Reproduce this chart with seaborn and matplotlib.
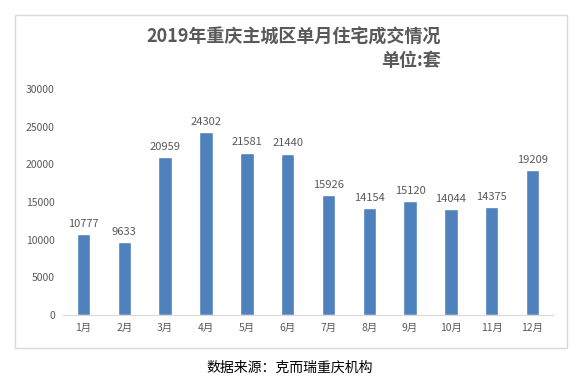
import pandas as pd
import seaborn as sns
import matplotlib.pyplot as plt
from matplotlib.patches import Rectangle

months = ['1月', '2月', '3月', '4月', '5月', '6月', '7月', '8月', '9月', '10月', '11月', '12月']
sales = [10777, 9633, 20959, 24302, 21581, 21440, 15926, 14154, 15120, 14044, 14375, 19209]
yticks = [0, 5000, 10000, 15000, 20000, 25000, 30000]

df = pd.DataFrame({'月份': months, '成交': sales})

sns.set_style('white')
plt.rcParams['font.family'] = ['Noto Sans CJK SC', 'DejaVu Sans']

fig = plt.figure(figsize=(5.79, 3.86), dpi=100)
ax = fig.add_axes([0.109, 0.184, 0.846, 0.585])

sns.barplot(data=df, x='月份', y='成交', color='#4F81BD', width=0.33,
            saturation=1, errorbar=None, ax=ax)

# 数据标签
for i, v in enumerate(sales):
    ax.text(i, v + 700, str(v), ha='center', va='bottom', fontsize=8, color='#595959')

ax.set_ylim(0, 30000)
ax.set_yticks(yticks)
ax.set_yticklabels([str(t) for t in yticks])
ax.set_xlim(-0.5, len(months) - 0.5)
ax.set_xlabel('')
ax.set_ylabel('')
ax.tick_params(axis='both', labelsize=7.5, colors='#595959', length=0, pad=6)
for s in ['top', 'right', 'left']:
    ax.spines[s].set_visible(False)
ax.spines['bottom'].set_color('#D9D9D9')

# 外框
fig.patches.append(Rectangle((15 / 579, 1 - 348 / 386), 552 / 579, 333 / 386,
                             transform=fig.transFigure, fill=False,
                             edgecolor='#D9D9D9', linewidth=1))

fig.text(441 / 579, 1 - 37 / 386, '2019年重庆主城区单月住宅成交情况', ha='right', va='center',
         fontsize=13, fontweight='bold', color='#595959')
fig.text(441 / 579, 1 - 60 / 386, '单位:套', ha='right', va='center',
         fontsize=13, fontweight='bold', color='#595959')
fig.text(290 / 579, 1 - 368 / 386, '数据来源：克而瑞重庆机构', ha='center', va='center',
         fontsize=10, color='black')

fig.savefig('out.png', dpi=100, facecolor='white')
